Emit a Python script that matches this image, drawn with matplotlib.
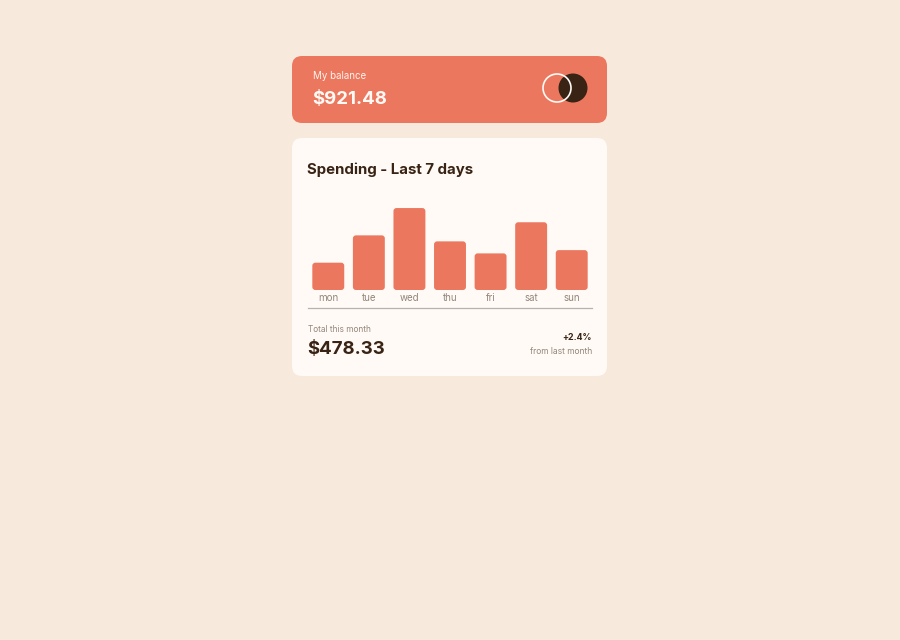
import matplotlib.pyplot as plt
from matplotlib.patches import FancyBboxPatch, Circle

plt.rcParams['font.family'] = ['Inter', 'DejaVu Sans']

days = ['mon', 'tue', 'wed', 'thu', 'fri', 'sat', 'sun']
amounts = [17.45, 34.91, 52.36, 31.07, 23.39, 43.28, 25.48]
balance = '$921.48'
total = '$478.33'
change = '+2.4%'

bg = '#F8E9DD'
card = '#FFFAF5'
red = '#EC775F'
dark = '#382314'
grey = '#93867B'

fig = plt.figure(figsize=(9, 6.4), dpi=100)
fig.patch.set_facecolor(bg)

# pixel-space axes for the cards
ax = fig.add_axes([0, 0, 1, 1])
ax.set_xlim(0, 900)
ax.set_ylim(640, 0)
ax.axis('off')

ax.add_patch(FancyBboxPatch((292, 56), 315, 67, boxstyle='round,pad=0,rounding_size=10',
                            fc=red, ec='none'))
ax.text(313, 76, 'My balance', fontsize=7, color='#FFF4EC', va='center')
ax.text(312, 100, balance, fontsize=13.4, fontweight='bold', color='#FFFAF5', va='center')
ax.add_patch(Circle((573, 88), 14.5, fc=dark, ec='none'))
ax.add_patch(Circle((557, 88), 14, fc='none', ec='#FFFAF5', lw=1.2))

ax.add_patch(FancyBboxPatch((292, 138), 315, 238, boxstyle='round,pad=0,rounding_size=10',
                            fc=card, ec='none'))
ax.text(307, 169.5, 'Spending - Last 7 days', fontsize=10.8, fontweight='bold',
        color=dark, va='center')
ax.plot([308, 592], [308, 308], color='#B9B2AC', lw=0.9)
ax.text(308, 329, 'Total this month', fontsize=6, color=grey, va='center')
ax.text(307, 349, total, fontsize=13.4, fontweight='bold', color=dark, va='center')
ax.text(592, 337, change, fontsize=6.4, fontweight='bold', color=dark, va='center', ha='right')
ax.text(592, 352, 'from last month', fontsize=6.1, color=grey, va='center', ha='right')

# bar chart
bx = fig.add_axes([308 / 900, 1 - 290 / 640, 284 / 900, 90 / 640])
bx.set_xlim(-0.5, 6.5)
bx.set_ylim(0, 57.5)
bx.patch.set_alpha(0)
for s in bx.spines.values():
    s.set_visible(False)
bars = bx.bar(range(len(days)), amounts, width=0.787, color=red)
for b in bars:
    b.set_visible(False)
    bx.add_patch(FancyBboxPatch((b.get_x(), b.get_y()), b.get_width(), b.get_height(),
                                boxstyle='round,pad=0,rounding_size=0.075',
                                mutation_aspect=26, fc=red, ec='none'))
bx.set_yticks([])
bx.set_xticks(range(len(days)))
bx.set_xticklabels(days, fontsize=7, color=grey)
bx.tick_params(axis='x', length=0, pad=2)

fig.savefig('out.png', dpi=100, facecolor=bg)
